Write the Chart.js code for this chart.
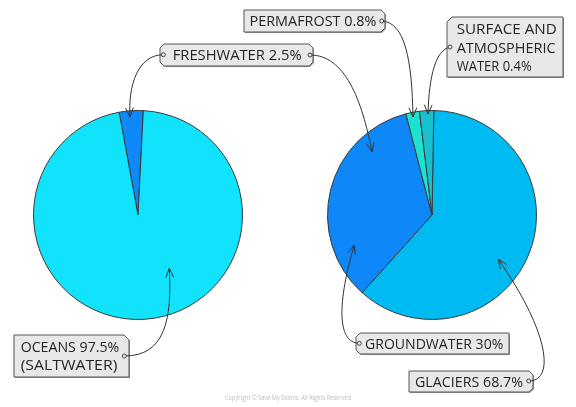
<!DOCTYPE html>
<html>
<head>
<meta charset="utf-8">
<script src="https://cdn.jsdelivr.net/npm/chart.js@4/dist/chart.umd.min.js"></script>
<style>
    html, body { margin: 0; padding: 0; background: #fff; }
    #stage { position: relative; width: 576px; height: 407px; overflow: hidden; }
    #stage canvas { position: absolute; }
    #notes { position: absolute; left: 0; top: 0; }
</style>
</head>
<body>
<div id="stage">
    <canvas id="allWaterPie" width="210" height="210" style="left:33px;top:110px"></canvas>
    <canvas id="freshWaterPie" width="210" height="210" style="left:327px;top:110px"></canvas>
    <svg id="notes" width="576" height="407" xmlns="http://www.w3.org/2000/svg"></svg>
</div>
<script>
// left pie: all water on earth
const allWaterLabels = ['Freshwater', 'Oceans (saltwater)'];
const allWaterStated = [2.5, 97.5];
// slice sizes as they are drawn in the picture (not quite to scale with the labels)
const allWaterDrawn = [3.7, 96.3];
const allWaterColours = ['#0f88fa', '#10e3fb'];

// right pie: where the freshwater is
const freshLabels = ['Glaciers', 'Groundwater', 'Permafrost', 'Surface and atmospheric water'];
const freshStated = [68.7, 30, 0.8, 0.4];
const freshDrawn = [61.4, 34.3, 2.1, 2.2];
const freshColours = ['#00bbf2', '#0e88f8', '#1ce3d1', '#18bfcc'];

function pieConfig(labels, values, colours, rotation) {
    return {
        type: 'pie',
        data: {
            labels: labels,
            datasets: [{
                data: values,
                backgroundColor: colours,
                borderColor: '#3a3a3a',
                borderWidth: 1,
            }],
        },
        options: {
            responsive: false,
            animation: false,
            events: [],
            rotation: rotation,
            plugins: {
                legend: { display: false },
                tooltip: { enabled: false },
            },
        },
    };
}

new Chart(document.getElementById('allWaterPie'), pieConfig(allWaterLabels, allWaterDrawn, allWaterColours, -10.4));
new Chart(document.getElementById('freshWaterPie'), pieConfig(freshLabels, freshDrawn, freshColours, 1));

// label boxes, text lines and the little dots where the connectors start
const tags = [
    { pts: '244,10 381,10 385,14 385,28 381,32 244,32', x: 249.5,
      lines: [{ t: 'PERMAFROST ' + freshStated[2] + '%', y: 26, w: 127 }] },
    { pts: '164,44 309,44 313,48 313,62 309,66 164,66 160,62 160,48', x: 172.7,
      lines: [{ t: 'FRESHWATER ' + allWaterStated[0] + '%', y: 60, w: 129 }] },
    { pts: '452,17 563,17 563,77 447,77 447,22', x: 456.7,
      lines: [
          { t: 'SURFACE AND', y: 34.3, w: 100 },
          { t: 'ATMOSPHERIC', y: 52.8, w: 99 },
          { t: 'WATER ' + freshStated[3] + '%', y: 70.7, w: 75 },
      ] },
    { pts: '14,335 124,335 129,340 129,377 14,377', x: 20.7,
      lines: [
          { t: 'OCEANS ' + allWaterStated[1] + '%', y: 352.3, w: 98.6 },
          { t: '(SALTWATER)', y: 370, w: 96.6 },
      ] },
    { pts: '360,333 509,333 509,354 360,354 356,350 356,337', x: 365,
      lines: [{ t: 'GROUNDWATER ' + freshStated[1] + '%', y: 349, w: 138.3 }] },
    { pts: '409,371 529,371 533,375 533,388 529,392 409,392', x: 415,
      lines: [{ t: 'GLACIERS ' + freshStated[0] + '%', y: 387, w: 108 }] },
];

// connectors: start dot, two bezier controls, arrow tip
const arrows = [
    [163.3, 54.7, 138, 55, 128, 85, 130, 117],
    [310, 55, 345, 55, 362, 100, 372, 152],
    [381.7, 21, 405, 22, 412, 60, 413, 117],
    [450, 47, 436, 50, 429, 75, 428, 114],
    [124.3, 356, 165, 356, 172, 320, 169.3, 268.3],
    [359.3, 343.3, 336, 343, 338, 300, 354.3, 245],
    [528.7, 381, 556, 381, 548, 330, 498.3, 259.3],
];

const svg = document.getElementById('notes');
const NS = 'http://www.w3.org/2000/svg';
function add(tag, attrs, text) {
    const el = document.createElementNS(NS, tag);
    for (const k in attrs) el.setAttribute(k, attrs[k]);
    if (text) el.textContent = text;
    svg.appendChild(el);
    return el;
}

tags.forEach(tag => {
    // faint shadow then the box itself
    add('polygon', { points: tag.pts, transform: 'translate(1,1)', fill: '#9a9a9a' });
    add('polygon', { points: tag.pts, fill: '#e8e8e8', stroke: '#555', 'stroke-width': 1 });
    tag.lines.forEach(line => {
        add('text', {
            x: tag.x, y: line.y, textLength: line.w, lengthAdjust: 'spacingAndGlyphs',
            'font-family': 'Open Sans, sans-serif', 'font-size': 14.5, fill: '#262626',
        }, line.t);
    });
});

arrows.forEach(a => {
    const [x0, y0, c1x, c1y, c2x, c2y, x1, y1] = a;
    add('path', {
        d: `M${x0},${y0} C${c1x},${c1y} ${c2x},${c2y} ${x1},${y1}`,
        fill: 'none', stroke: '#333', 'stroke-width': 1,
    });
    // open arrow head following the last tangent
    const ang = Math.atan2(y1 - c2y, x1 - c2x);
    const len = 10, spread = 0.4;
    const p1 = [x1 - len * Math.cos(ang - spread), y1 - len * Math.sin(ang - spread)];
    const p2 = [x1 - len * Math.cos(ang + spread), y1 - len * Math.sin(ang + spread)];
    add('path', {
        d: `M${p1[0]},${p1[1]} L${x1},${y1} L${p2[0]},${p2[1]}`,
        fill: 'none', stroke: '#333', 'stroke-width': 1,
    });
    add('circle', { cx: x0, cy: y0, r: 2, fill: '#e8e8e8', stroke: '#444', 'stroke-width': 1 });
});

add('text', {
    x: 225, y: 400, textLength: 126, lengthAdjust: 'spacingAndGlyphs',
    'font-family': 'Open Sans, sans-serif', 'font-size': 6.5, fill: '#bdbdbd',
}, 'Copyright © Save My Exams. All Rights Reserved');
</script>
</body>
</html>
